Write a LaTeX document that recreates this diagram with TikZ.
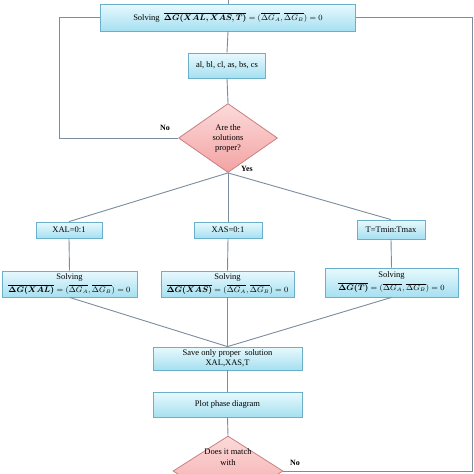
\documentclass[tikz,border=0pt]{standalone}
\usepackage{amsmath,bm}
\usepackage{fontspec}
\setmainfont{Liberation Serif}
\usetikzlibrary{shapes.geometric}
\definecolor{boxtop}{HTML}{E8F9FD}
\definecolor{boxbot}{HTML}{A6E0F1}
\definecolor{boxline}{HTML}{6BAFC8}
\definecolor{dtop}{HTML}{FCDADA}
\definecolor{dbot}{HTML}{F3A3A3}
\definecolor{dline}{HTML}{C98080}
\definecolor{conn}{HTML}{7A8C9E}
\tikzset{
  procbox/.style={draw=boxline, line width=0.8pt, top color=boxtop, bottom color=boxbot,
    inner sep=1pt, align=center, font=\fontsize{8.5}{10}\selectfont},
  decbox/.style={diamond, draw=dline, line width=0.8pt, top color=dtop, bottom color=dbot,
    inner sep=0pt, align=center, font=\fontsize{8.5}{10}\selectfont},
  conline/.style={draw=conn, line width=0.9pt},
  lab/.style={font=\bfseries\fontsize{8}{9}\selectfont, inner sep=0pt}
}
\newcommand{\dg}[1]{\overline{\bm{\Delta G(#1)}}}
\newcommand{\dgab}{(\overline{\Delta G_A},\overline{\Delta G_B})}
\newcommand{\mfs}{\fontsize{7.8}{9}\selectfont}
\begin{document}
\begin{tikzpicture}[x=1pt,y=-1pt]
\useasboundingbox (0,0) rectangle (474,474);
\clip (0,0) rectangle (474,474);
% nodes
\node[procbox, minimum width=255pt, minimum height=27pt] (top) at (228,17.5)
  {Solving \ {\mfs$\dg{XAL,XAS,T} = \dgab = 0$}};
\node[procbox, minimum width=77pt, minimum height=25pt] (coef) at (227,65.5) {al, bl, cl, as, bs, cs};
\node[decbox, minimum width=99pt, minimum height=69pt] (d1) at (228,138) {Are the\\solutions\\proper?};
\node[procbox, minimum width=66pt, minimum height=16pt] (xal) at (69,230) {XAL=0:1};
\node[procbox, minimum width=68pt, minimum height=16pt] (xas) at (228,230) {XAS=0:1};
\node[procbox, minimum width=68pt, minimum height=19pt] (tt) at (391,229.5) {T=Tmin:Tmax};
\node[procbox, minimum width=135pt, minimum height=26pt] (s1) at (69.5,284)
  {Solving\\[3pt] {\mfs$\dg{XAL} = \dgab = 0$}};
\node[procbox, minimum width=133pt, minimum height=26pt] (s2) at (227.5,284)
  {Solving\\[3pt] {\mfs$\dg{XAS} = \dgab = 0$}};
\node[procbox, minimum width=133pt, minimum height=29pt] (s3) at (391.5,282.5)
  {Solving\\[3pt] {\mfs$\dg{T} = \dgab = 0$}};
\node[procbox, minimum width=149pt, minimum height=23pt] (save) at (227.5,358.5)
  {Save only proper \ solution\\XAL,XAS,T};
\node[procbox, minimum width=149pt, minimum height=25pt] (plot) at (227.5,404.5) {Plot phase diagram};
\node[decbox, minimum width=110pt, minimum height=70pt] (d2) at (228,471) {};
\node[align=center, inner sep=0pt, font=\fontsize{8.5}{11}\selectfont] (d2t) at (228,457) {Does it match\\with};
% labels
\node[lab] (no1) at (165,128) {No};
\node[lab] (yes1) at (247,169) {Yes};
\node[lab] (no2) at (295,463) {No};
% connectors
\coordinate (in) at (228,-2);
\coordinate (rc) at (472,17.5);
\draw[conline] (in) -- (top.north);
\draw[conline] (top.south) -- (coef.north);
\draw[conline] (coef.south) -- (d1.north);
\draw[conline] (d1.west) -- ++(-119,0) |- (top.west);
\draw[conline] (d1.south) -- (xal.north);
\draw[conline] (d1.south) -- (xas.north);
\draw[conline] (d1.south) -- (tt.north);
\draw[conline] (xal.south) -- (s1.north);
\draw[conline] (xas.south) -- (s2.north);
\draw[conline] (tt.south) -- (s3.north);
\draw[conline] (s1.south) -- (save.north);
\draw[conline] (s2.south) -- (save.north);
\draw[conline] (s3.south) -- (save.north);
\draw[conline] (save.south) -- (plot.north);
\draw[conline] (plot.south) -- (d2.north);
\draw[conline] (d2.east) -| (rc) -- (top.east);
\end{tikzpicture}
\end{document}
